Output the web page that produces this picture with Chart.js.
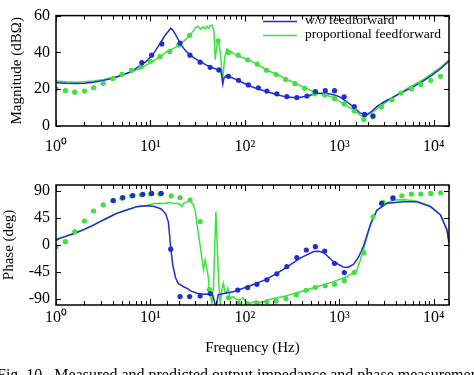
<!DOCTYPE html>
<html>
<head>
<meta charset="utf-8">
<script src="https://cdn.jsdelivr.net/npm/chart.js@4.4.1/dist/chart.umd.min.js"></script>
<style>
  body { margin: 0; background: #fff; width: 474px; height: 375px; overflow: hidden; position: relative; }
  canvas { position: absolute; left: 0; }
  #mag { top: 0; }
  #pha { top: 165px; }
  #cap { position: absolute; left: -3px; top: 367px; font: 16px 'Liberation Serif', serif; white-space: nowrap; line-height: 16px; }
</style>
</head>
<body>
<canvas id="mag" width="474" height="165"></canvas>
<canvas id="pha" width="474" height="210"></canvas>
<div id="cap">Fig. 10.&nbsp; Measured and predicted output impedance and phase measurement</div>
<script>
// [frequency Hz, value] pairs
const magBlueLine = [[1,23.5],[1.3,23.2],[1.6,23.1],[2,23.3],[2.5,23.8],[3.2,24.8],[4,26],[5,27.6],[6.3,29.6],[8,33.3],[9,35],[10,37.5],[11,40],[12.7,45],[14.3,49.3],[15.5,51.5],[16.4,53.2],[17.3,52],[18.3,50],[20.6,45],[23,41.5],[26.3,38.5],[30,36.5],[34,35],[38,33.5],[43,32],[48,31.3],[52,30.5],[55,30.8],[57,27],[58.4,22.8],[60,26],[64,27.5],[70,26.6],[85,24.8],[109,22],[140,20],[171,18.7],[218,17],[278,15.7],[355,15.4],[454,16.2],[558,17.5],[710,17.9],[867,17],[1000,16],[1102,14.5],[1250,12.5],[1412,10.4],[1660,7.1],[1940,6],[2200,8],[2500,10.5],[2930,12.9],[3800,16],[4800,18.7],[6200,21.5],[7780,24.5],[9500,27.5],[11800,31.1],[13500,33.8],[14500,35.2]];
const magGreenLine = [[1,24.5],[1.3,24],[1.6,23.8],[2,24],[2.5,24.5],[3.2,25.3],[4,26.3],[5,27.8],[6.3,29.5],[8,31.5],[10,34.5],[12.6,37.5],[15,40.5],[18,42.5],[20.6,44.3],[24.3,47.6],[28.4,51.7],[30,53.5],[32,54.2],[34,52.5],[36,54],[38,52.6],[39.5,54.2],[41,53],[43,54.5],[45,54.8],[47,52],[48.5,36],[50.5,44],[52.5,46],[55,40],[58,24],[61,37],[64.5,41.8],[70,40.5],[85,38],[109,36],[134,33.6],[171,30.3],[218,28.1],[278,25.3],[355,22.8],[454,20.3],[558,18.2],[710,17],[867,15.4],[1102,12],[1412,8.8],[1810,4.6],[2300,7.9],[3440,14.5],[5200,20.3],[7780,25.3],[11800,31.9],[14500,36]];
const magBlueDots = [[8.1,34.4],[10.3,38.5],[13.2,44.6],[20.6,45.1],[26.2,38.5],[33.6,34.7],[42.9,31.9],[53,30.5],[67,27],[85.6,24.8],[109,22.3],[139,20.8],[171,19],[218,17.5],[278,16],[355,15.5],[454,16.3],[558,18.7],[710,19.2],[890,19.2],[1125,15.9],[1440,10.6],[1850,6.3],[2270,5.5]];
const magGreenDots = [[1,20.3],[1.26,19.2],[1.58,18.4],[2,19],[2.5,20.8],[3.16,23.2],[4,25.8],[5,28.1],[6.3,30.3],[8,32.4],[10,35.2],[12.6,37.7],[16,40.5],[20,44],[26,49.3],[52,46.3],[67,40],[85,38.5],[107,36],[135,33.6],[170,30.3],[214,28],[270,25.3],[340,23],[430,20.5],[545,17.5],[700,16.8],[890,15],[1125,12],[1440,8.3],[1820,3.5],[2270,5],[2800,10.4],[3600,14.2],[4500,17.9],[5800,20.3],[7300,22.5],[9300,24.8],[11800,27]];

const phaBlueLine = [[1,8],[1.1,11],[1.25,13.9],[1.59,19.5],[2,26],[2.5,33],[2.93,38.9],[3.5,45],[4.4,52.8],[5.5,58],[7.2,63.9],[9.1,65.5],[9.9,65],[11,64],[12,62],[13,60],[14.5,52],[15.5,38],[16.4,-5],[17.3,-35],[18.5,-55],[19.7,-64],[22,-69],[24.2,-72],[27,-77],[31,-80.5],[37,-82],[43,-81.7],[46,-85],[48.5,-100],[50.5,-97],[52,-83],[60,-81],[75.5,-77.8],[114,-68],[171,-57],[256,-40.5],[385,-22],[535,-11],[610,-10.5],[685,-12.8],[870,-27.8],[1100,-36.5],[1250,-37],[1420,-32],[1600,-20],[1800,-2],[2150,36],[2500,58],[3200,69.5],[4800,72.2],[6600,72],[9200,64],[11800,50],[13800,25],[14500,3]];
const phaGreenLine = [[1,10],[1.25,14.5],[1.59,20],[2,26.5],[2.5,33.5],[2.93,39],[3.5,45],[4.4,53],[5.5,58],[7.2,64],[9.1,66],[10,67.5],[11,69],[12.6,69.5],[14,69],[16,71],[17.5,69],[19,69.5],[20.5,68],[21.6,64],[22.4,69.5],[24,71],[26.3,75],[27.5,70],[28.6,66.7],[30,55],[31,36],[33.7,-2.8],[36.5,-41.7],[38,-25],[41,-53],[42,-75],[43.5,-88],[44.7,-97],[46.5,-69],[49.3,55.5],[52.7,-58],[54.8,-100],[57,-75],[59.3,-64],[61.5,-78],[63.6,-80.5],[66,-72],[70,-89],[75.5,-86],[82,-91],[89,-91.7],[95,-88],[102,-94],[114,-97],[130,-94],[150,-96],[171,-91.7],[256,-86],[385,-78],[580,-69.5],[870,-61],[1200,-53],[1530,-41.7],[1670,-25],[1820,-5],[2100,30],[2500,58],[3000,68],[3800,75],[5000,75.5],[6600,73],[9200,65],[11800,50],[13800,25],[14500,3]];
const phaBlueDots = [[4.05,74],[5.1,79],[6.5,82.5],[8.3,84.5],[10.3,86],[13,86],[16.4,-7],[20.6,-86],[26,-86],[33.6,-85],[43,-81],[84,-75],[107,-71],[134,-65.5],[171,-58],[218,-48],[278,-36],[355,-21],[447,-8.3],[558,-2.8],[700,-10],[890,-30.5],[1130,-46],[2800,69.5],[3700,78]];
const phaGreenDots = [[1,-3],[1.26,5.5],[1.58,22.2],[2,40],[2.5,56.7],[3.16,67],[4,73.8],[5,78],[6.3,81.7],[8,83.3],[10,85],[12.6,85],[16.6,82],[20.6,79],[26.3,75],[33.6,39],[42,-74],[67,-88],[85,-97],[107,-98],[134,-97],[171,-95],[214,-93],[272,-89],[350,-83],[445,-75.5],[558,-70.5],[710,-68],[890,-65.5],[1130,-59.5],[1440,-46],[1820,-12.8],[2270,47],[2900,71],[3700,79],[4600,82],[5800,85],[7300,85],[9300,86],[11800,87]];

const magTicks = [0, 20, 40, 60];
const phaTicks = [-90, -45, 0, 45, 90];
const legendLabels = ['w/o feedforward', 'proportional feedforward'];

const BLUE = '#1f2ed2';
const GREEN = '#3fe03f';
const SERIF = "'Liberation Serif', 'Times New Roman', serif";
const SUP = ['\u2070', '\u00b9', '\u00b2', '\u00b3', '\u2074', '\u2075'];

const toXY = pts => pts.map(([x, y]) => ({ x, y }));
const isDecade = v => Math.abs(Math.log10(v) - Math.round(Math.log10(v))) < 1e-9;

function datasets(blueLine, greenLine, blueDots, greenDots) {
  const dot = (data, c, order) => ({ data: toXY(data), showLine: false, pointRadius: 2.6, pointBorderWidth: 0, backgroundColor: c, order });
  const line = (data, c, order) => ({ data: toXY(data), showLine: true, pointRadius: 0, borderColor: c, borderWidth: 1.5, tension: 0, order });
  return [dot(blueDots, BLUE, 0), dot(greenDots, GREEN, 1), line(blueLine, BLUE, 2), line(greenLine, GREEN, 3)];
}

// box with inward ticks on all four sides
const frame = {
  id: 'frame',
  afterDraw(chart) {
    const { ctx, chartArea: a, scales: { x, y } } = chart;
    ctx.save();
    ctx.strokeStyle = '#000';
    ctx.lineWidth = 1.5;
    ctx.strokeRect(a.left, a.top, a.right - a.left, a.bottom - a.top);
    ctx.lineWidth = 1;
    ctx.beginPath();
    x.ticks.forEach(t => {
      const px = Math.round(x.getPixelForValue(t.value)) + 0.5;
      const len = isDecade(t.value) ? 6 : 4;
      ctx.moveTo(px, a.bottom); ctx.lineTo(px, a.bottom - len);
      ctx.moveTo(px, a.top); ctx.lineTo(px, a.top + len);
    });
    y.ticks.forEach(t => {
      const py = Math.round(y.getPixelForValue(t.value)) + 0.5;
      ctx.moveTo(a.left, py); ctx.lineTo(a.left + 5, py);
      ctx.moveTo(a.right, py); ctx.lineTo(a.right - 5, py);
    });
    ctx.stroke();
    ctx.restore();
  }
};

const innerLegend = {
  id: 'innerLegend',
  afterDraw(chart) {
    const ctx = chart.ctx;
    ctx.save();
    ctx.font = '13.5px ' + SERIF;
    ctx.textBaseline = 'middle';
    ctx.fillStyle = '#000';
    ctx.lineWidth = 1.5;
    [BLUE, GREEN].forEach((c, i) => {
      const yy = 21.5 + i * 14;
      ctx.strokeStyle = c;
      ctx.beginPath(); ctx.moveTo(263, yy); ctx.lineTo(297, yy); ctx.stroke();
      ctx.fillText(legendLabels[i], 305, yy - 1);
    });
    ctx.restore();
  }
};

function options(cfg) {
  const tickFont = { family: SERIF, size: 16 };
  const titleFont = { family: SERIF, size: 15 };
  return {
    responsive: false,
    animation: false,
    devicePixelRatio: 1,
    layout: { padding: { top: cfg.top, right: 25, left: 0, bottom: 0 } },
    plugins: { legend: { display: false }, tooltip: { enabled: false } },
    scales: {
      x: {
        type: 'logarithmic', min: 1, max: 14500,
        grid: { display: false, drawTicks: false }, border: { display: false },
        ticks: {
          autoSkip: false, maxRotation: 0, padding: cfg.xPad, color: '#000', font: tickFont,
          callback: v => isDecade(v) ? '10' + SUP[Math.round(Math.log10(v))] : ''
        },
        title: cfg.xTitle ? { display: true, text: cfg.xTitle, color: '#000', font: titleFont, padding: { top: 0, bottom: 18 } } : { display: false },
        afterFit: s => { s.height = cfg.xHeight; }
      },
      y: {
        min: cfg.yMin, max: cfg.yMax,
        grid: { display: false, drawTicks: false }, border: { display: false },
        ticks: { padding: 6, color: '#000', font: tickFont },
        afterBuildTicks: s => { s.ticks = cfg.yTicks.map(v => ({ value: v })); },
        title: { display: true, text: cfg.yTitle, color: '#000', font: titleFont, padding: { top: cfg.yTitlePad, bottom: 0 } },
        afterFit: s => { s.width = 56; }
      }
    }
  };
}

new Chart(document.getElementById('mag'), {
  type: 'scatter',
  data: { datasets: datasets(magBlueLine, magGreenLine, magBlueDots, magGreenDots) },
  options: options({ top: 5, xPad: 11, xHeight: 39, yMin: 0, yMax: 60, yTicks: magTicks, yTitle: 'Magnitude (dBΩ)', yTitlePad: 8.5 }),
  plugins: [frame, innerLegend]
});

new Chart(document.getElementById('pha'), {
  type: 'scatter',
  data: { datasets: datasets(phaBlueLine, phaGreenLine, phaBlueDots, phaGreenDots) },
  options: options({ top: 20, xPad: 3, xHeight: 70, yMin: -100, yMax: 100, yTicks: phaTicks, yTitle: 'Phase (deg)', yTitlePad: 0, xTitle: 'Frequency (Hz)' }),
  plugins: [frame]
});
</script>
</body>
</html>
